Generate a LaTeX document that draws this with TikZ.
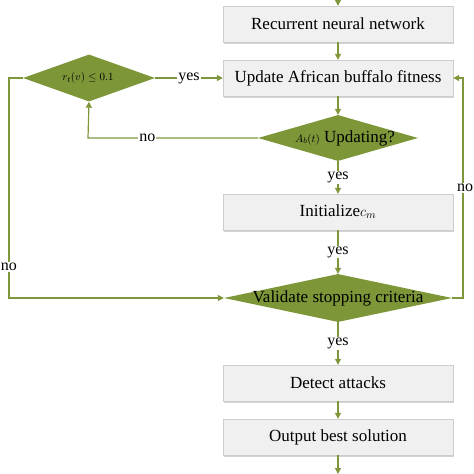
\documentclass[tikz,border=0pt]{standalone}
\usepackage{fontspec}
\setmainfont{Liberation Serif}
\usetikzlibrary{shapes.geometric,arrows.meta,shadows}
\definecolor{lg}{RGB}{128,150,58}
\definecolor{dg}{RGB}{124,150,56}
\definecolor{bf}{RGB}{240,240,240}
\definecolor{bd}{RGB}{205,205,205}
\begin{document}
\begin{tikzpicture}[x=1pt,y=-1pt,
  procbox/.style={draw=bd, fill=bf, minimum width=230pt, minimum height=36pt, inner sep=0pt,
    font=\fontsize{17}{20}\selectfont,
    drop shadow={shadow xshift=1pt, shadow yshift=-1.5pt, opacity=0.35}},
  dec/.style={diamond, fill=dg, draw=none, inner sep=0pt},
  dectext/.style={font=\fontsize{17}{20}\selectfont, inner sep=0pt},
  conn/.style={draw=lg, line width=1.2pt, -{Triangle[length=6pt,width=6pt]}},
  lab/.style={fill=white, inner sep=1pt, font=\fontsize{16}{18}\selectfont}
]
\useasboundingbox (0,0) rectangle (474,474);

\coordinate (top) at (338,0);
\coordinate (bot) at (338,474);

\node[procbox] (rnn) at (338,24) {Recurrent neural network};
\node[procbox] (upd) at (338,78) {Update African buffalo fitness};
\node[dec, minimum width=132pt, minimum height=47pt] (rt) at (89,78) {};
\node[font=\fontsize{11}{13}\selectfont, inner sep=0pt] (rtt) at (88,78) {$r_t(v)\le 0.1$};
\node[dec, minimum width=160pt, minimum height=46pt] (uq) at (338,138) {};
\node[dectext] (uqt) at (345,138) {{\fontsize{11}{13}\selectfont$A_b(t)$}\ Updating?};
\node[procbox] (init) at (338,212) {Initialize{\fontsize{15}{17}\selectfont$c_m$}};
\node[dec, minimum width=228pt, minimum height=48pt] (val) at (338,298) {};
\node[dectext] (valt) at (338,298) {Validate stopping criteria};
\node[procbox] (det) at (338,383) {Detect attacks};
\node[procbox] (out) at (338,437) {Output best solution};

\coordinate (nl) at (88,138);
\coordinate (l1) at (9,78);
\coordinate (l2) at (9,298);
\coordinate (r1) at (463,298);
\coordinate (r2) at (463,78);

\draw[conn] (top) -- (rnn.north);
\draw[conn] (rnn.south) -- (upd.north);
\draw[conn] (rt.east) -- node[lab] (ly1) {yes} (upd.west);
\draw[conn] (upd.south) -- (uq.north);
\draw[conn] (uq.west) -- node[lab, pos=0.65] (ln1) {no} (nl) -- (rt.south);
\draw[conn] (uq.south) -- node[lab] (ly2) {yes} (init.north);
\draw[conn] (init.south) -- node[lab] (ly3) {yes} (val.north);
\draw[conn] (val.south) -- node[lab] (ly4) {yes} (det.north);
\draw[conn] (det.south) -- (out.north);
\draw[conn] (out.south) -- (bot);
\draw[conn] (rt.west) -- (l1) -- node[lab, pos=0.86] (ln2) {no} (l2) -- (val.west);
\draw[conn] (val.east) -- (r1) -- node[lab, pos=0.5, xshift=2pt] (ln3) {no} (r2) -- (upd.east);
\end{tikzpicture}
\end{document}
